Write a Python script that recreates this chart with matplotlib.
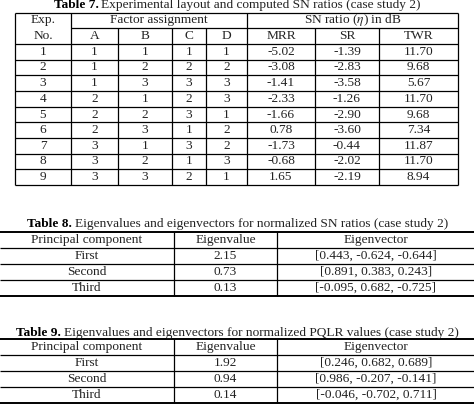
import matplotlib.pyplot as plt

plt.rcParams["font.family"] = ["Liberation Serif", "DejaVu Serif"]
plt.rcParams["mathtext.fontset"] = "stix"

# Table 7 data
exp_no = ["1", "2", "3", "4", "5", "6", "7", "8", "9"]
factor_a = ["1", "1", "1", "2", "2", "2", "3", "3", "3"]
factor_b = ["1", "2", "3", "1", "2", "3", "1", "2", "3"]
factor_c = ["1", "2", "3", "2", "3", "1", "3", "1", "2"]
factor_d = ["1", "2", "3", "3", "1", "2", "2", "3", "1"]
sn_mrr = ["-5.02", "-3.08", "-1.41", "-2.33", "-1.66", "0.78", "-1.73", "-0.68", "1.65"]
sn_sr = ["-1.39", "-2.83", "-3.58", "-1.26", "-2.90", "-3.60", "-0.44", "-2.02", "-2.19"]
sn_twr = ["11.70", "9.68", "5.67", "11.70", "9.68", "7.34", "11.87", "11.70", "8.94"]

# Tables 8 et 9
components = ["First", "Second", "Third"]
eig_sn = ["2.15", "0.73", "0.13"]
vec_sn = ["[0.443, -0.624, -0.644]", "[0.891, 0.383, 0.243]", "[-0.095, 0.682, -0.725]"]
eig_pqlr = ["1.92", "0.94", "0.14"]
vec_pqlr = ["[0.246, 0.682, 0.689]", "[0.986, -0.207, -0.141]", "[-0.046, -0.702, 0.711]"]

FS = 9.6
fig = plt.figure(figsize=(4.74, 4.05), dpi=100)
ax = fig.add_axes([0, 0, 1, 1])
ax.set_xlim(0, 474)
ax.set_ylim(405, 0)
ax.axis("off")


def hline(y, x0, x1, lw=0.9):
    ax.plot([x0, x1], [y, y], color="black", lw=lw, solid_capstyle="butt")


def vline(x, y0, y1, lw=0.9):
    ax.plot([x, x], [y0, y1], color="black", lw=lw, solid_capstyle="butt")


def cell(x, y, s):
    ax.text(x, y, s, ha="center", va="center", fontsize=FS, color="#222222")


def title(y, bold, rest):
    t = ax.text(237, y, bold + " " + rest, ha="center", va="center", fontsize=FS, alpha=0)
    fig.canvas.draw()
    bb = t.get_window_extent()
    inv = ax.transData.inverted()
    x0 = inv.transform((bb.x0, 0))[0]
    tb = ax.text(x0, y, bold, ha="left", va="center", fontsize=FS, weight="bold")
    bbb = tb.get_window_extent()
    x1 = inv.transform((bbb.x1, 0))[0]
    ax.text(x1 + 2.5, y, rest, ha="left", va="center", fontsize=FS, color="#222222")


# ---- Table 7
title(5, "Table 7.", "Experimental layout and computed SN ratios (case study 2)")
cols = [15, 71, 118, 172, 206, 247, 315, 379, 458]
top, h1, h2, bottom = 13, 28, 44, 185
hline(top, cols[0], cols[-1])
hline(h1, cols[1], cols[-1])
row_h = (bottom - h2) / len(exp_no)
for i in range(len(exp_no) + 1):
    hline(h2 + i * row_h, cols[0], cols[-1])
for j, x in enumerate(cols):
    if j in (2, 3, 4, 6, 7):
        vline(x, h1, bottom)
    else:
        vline(x, top, bottom)
cell((cols[0] + cols[1]) / 2, 20.5, "Exp.")
cell((cols[0] + cols[1]) / 2, 36, "No.")
cell((cols[1] + cols[5]) / 2, 20.5, "Factor assignment")
cell((cols[5] + cols[8]) / 2, 20.5, r"SN ratio ($\eta$) in dB")
for j, lab in enumerate(["A", "B", "C", "D", "MRR", "SR", "TWR"]):
    cell((cols[j + 1] + cols[j + 2]) / 2, 36, lab)
columns = [exp_no, factor_a, factor_b, factor_c, factor_d, sn_mrr, sn_sr, sn_twr]
for i in range(len(exp_no)):
    y = h2 + (i + 0.5) * row_h
    for j, col in enumerate(columns):
        cell((cols[j] + cols[j + 1]) / 2, y, col[i])


# ---- Tables 8 et 9
def eig_table(y_title, y_top, eigvals, vectors, num, rest):
    title(y_title, f"Table {num}.", rest)
    rh = 16
    hline(y_top, 0, 474, lw=1.4)
    for i in range(1, 4):
        hline(y_top + i * rh, 0, 474)
    hline(y_top + 4 * rh, 0, 474, lw=1.4)
    vline(174, y_top, y_top + 4 * rh)
    vline(277, y_top, y_top + 4 * rh)
    rows = [["Principal component", "Eigenvalue", "Eigenvector"]]
    rows += [[c, e, v] for c, e, v in zip(components, eigvals, vectors)]
    centers = [87, 225.5, 376]
    for i, r in enumerate(rows):
        for j, s in enumerate(r):
            cell(centers[j], y_top + (i + 0.5) * rh, s)


eig_table(224, 232, eig_sn, vec_sn, 8,
          "Eigenvalues and eigenvectors for normalized SN ratios (case study 2)")
eig_table(333, 339, eig_pqlr, vec_pqlr, 9,
          "Eigenvalues and eigenvectors for normalized PQLR values (case study 2)")

fig.savefig("out.png", dpi=100)
